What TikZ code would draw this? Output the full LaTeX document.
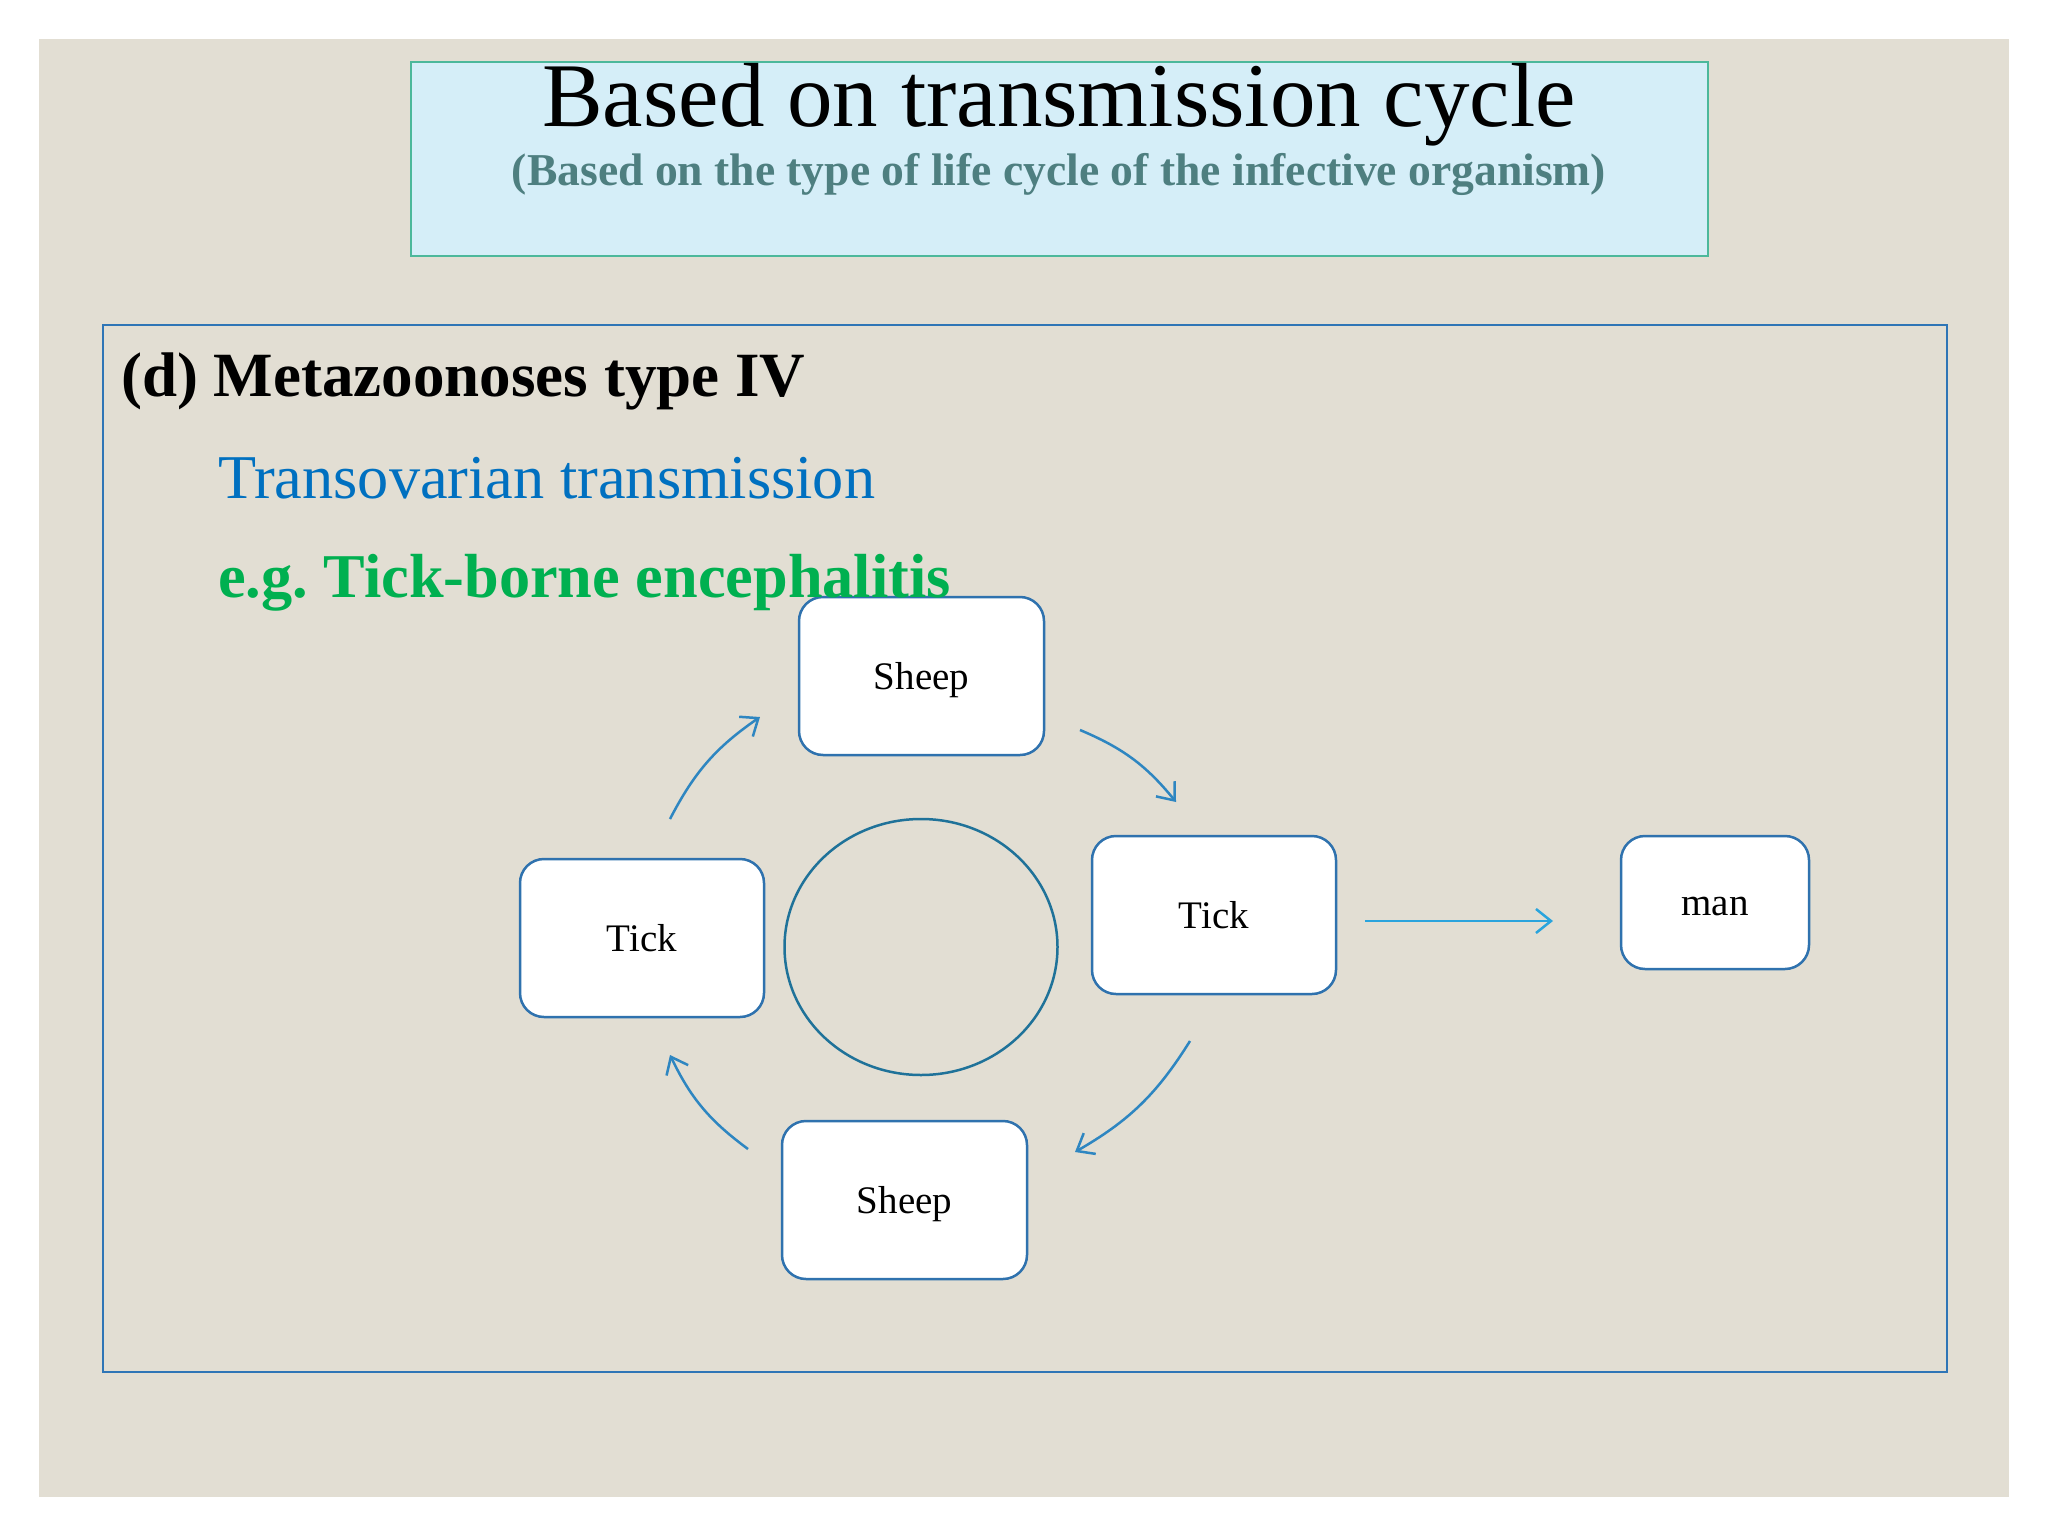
\documentclass[tikz,border=0pt]{standalone}
\usepackage{fontspec}
\setmainfont{Liberation Serif}
\usetikzlibrary{arrows.meta,shapes.geometric}
\frenchspacing
\definecolor{slidebg}{HTML}{E2DED3}
\definecolor{titlefill}{HTML}{D5EEF8}
\definecolor{titleborder}{HTML}{4CB89B}
\definecolor{subgray}{HTML}{4E7F80}
\definecolor{contentblue}{HTML}{2E75B6}
\definecolor{textblue}{HTML}{0070C0}
\definecolor{textgreen}{HTML}{00B050}
\definecolor{boxblue}{HTML}{2F72AE}
\definecolor{ellblue}{HTML}{1F7299}
\definecolor{arcblue}{HTML}{2E86C1}
\definecolor{lineblue}{HTML}{2AA4DD}
\begin{document}
\begin{tikzpicture}[x=1pt,y=-1pt,
  animalbox/.style={draw=boxblue, line width=2.5pt, fill=white, rounded corners=24pt,
    minimum width=245pt, minimum height=158pt, inner sep=0pt,
    text height=26.6pt, text depth=0pt,
    font=\fontsize{39}{44}\selectfont},
  cyclearrow/.style={draw=arcblue, line width=2.5pt, -{Straight Barb[length=15pt,width=24pt]}},
  plainarrow/.style={draw=lineblue, line width=2.5pt, -{Straight Barb[length=15pt,width=24pt]}},
  bigtext/.style={anchor=base west, inner sep=0pt, font=\fontsize{62.3}{70}\selectfont},
]
\useasboundingbox (0,0) rectangle (2048,1536);
\fill[white] (0,0) rectangle (2048,1536);
\fill[slidebg] (39,39) rectangle (2009,1497);

% title box
\node[draw=titleborder, fill=titlefill, line width=2pt, minimum width=1297pt,
  minimum height=194pt, anchor=north west, inner sep=0pt] (titlebox) at (410,61) {};
\node[anchor=base, inner sep=0pt, font=\fontsize{91}{100}\selectfont] (title) at (1059,127) {Based on transmission cycle};
\node[anchor=base, inner sep=0pt, text=subgray, font=\bfseries\fontsize{45.6}{52}\selectfont] (subtitle) at (1059,185) {(Based on the type of life cycle of the infective organism)};

% content frame
\node[draw=contentblue, line width=2pt, minimum width=1844pt, minimum height=1047pt,
  anchor=north west, inner sep=0pt] (content) at (102,324) {};

% cycle
\node[draw=ellblue, line width=2.5pt, ellipse, minimum width=273pt, minimum height=256pt, inner sep=0pt] (cyc) at (921,947) {};
\node[animalbox] (sheepT) at (921.5,676) {Sheep};
\node[animalbox, minimum width=244pt] (tickL) at (642,938) {Tick};
\node[animalbox, minimum width=244pt] (tickR) at (1214,915) {Tick};
\node[animalbox] (sheepB) at (904.5,1200) {Sheep};
\node[animalbox, minimum width=188pt, minimum height=133pt] (man) at (1715,902.5) {man};

\coordinate (a1s) at (670,819);  \coordinate (a1e) at (760,717);
\coordinate (a2s) at (1080,730); \coordinate (a2e) at (1176,802);
\coordinate (a3s) at (1190,1041); \coordinate (a3e) at (1075,1152);
\coordinate (a4s) at (748,1149); \coordinate (a4e) at (670,1055);
\draw[cyclearrow] (a1s) to[bend left=14] (a1e);
\draw[cyclearrow] (a2s) to[bend left=14] (a2e);
\draw[cyclearrow] (a3s) to[bend left=14] (a3e);
\draw[cyclearrow] (a4s) to[bend left=14] (a4e);

\coordinate (m1) at (1365,921); \coordinate (m2) at (1553,921);
\draw[plainarrow] (m1) -- (m2);

% texts
\node[bigtext, font=\bfseries\fontsize{63}{70}\selectfont] (head) at (121,396) {(d) Metazoonoses type IV};
\node[bigtext, text=textblue] (trans) at (218,498) {Transovarian transmission};
\node[bigtext, text=textgreen, font=\bfseries\fontsize{62.3}{70}\selectfont] (eg) at (218,597) {e.g. Tick-borne encephalitis};
\end{tikzpicture}
\end{document}
